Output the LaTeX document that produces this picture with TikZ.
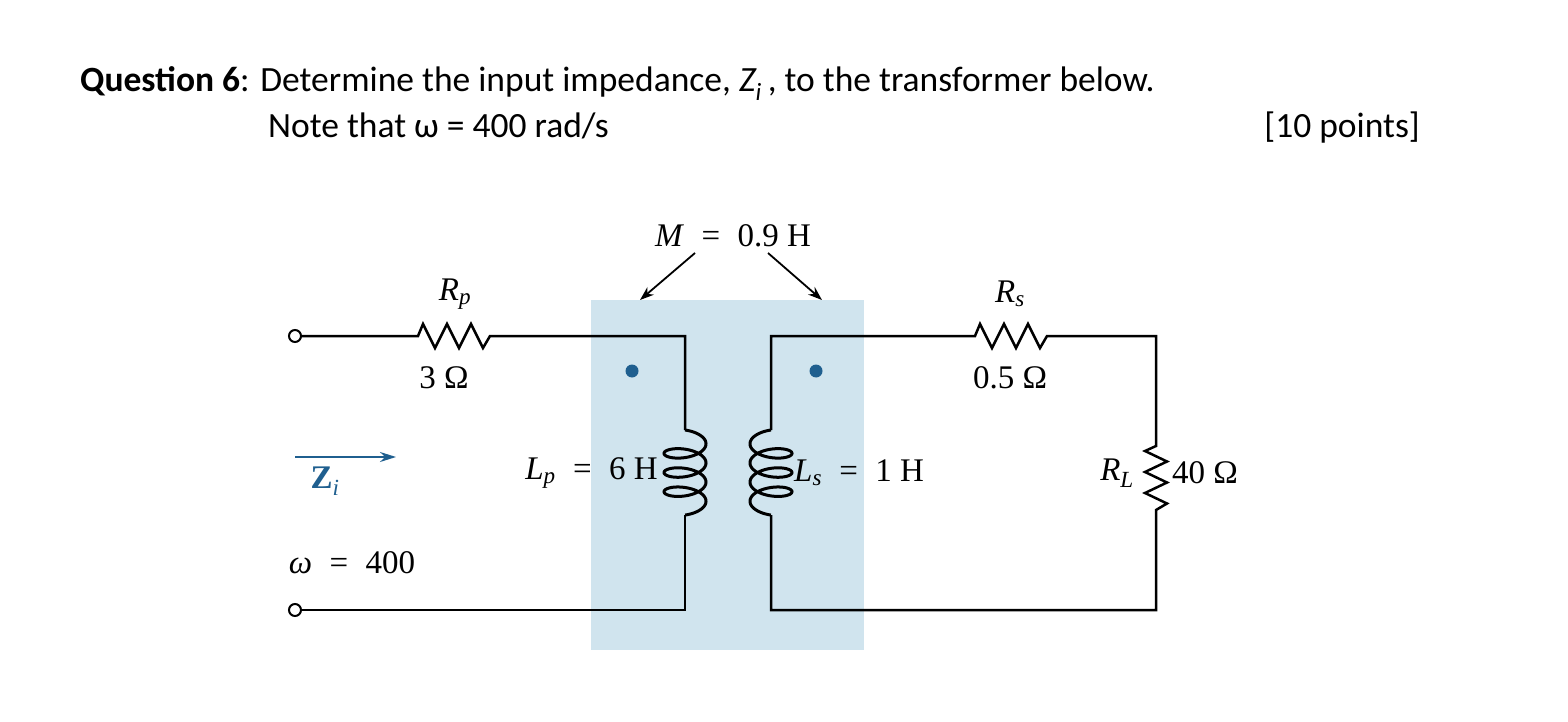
\documentclass[tikz,border=0pt]{standalone}
\usepackage{fontspec}
\setmainfont{Liberation Serif}
\newfontfamily\titlefont{Carlito}
\usetikzlibrary{arrows.meta}
\definecolor{boxblue}{RGB}{208,228,238}
\definecolor{dotblue}{RGB}{31,95,143}
\begin{document}
\begin{tikzpicture}[x=1pt,y=-1pt,
  wire/.style={line width=2.5pt,line join=miter},
  lab/.style={font=\fontsize{33}{33}\selectfont,inner sep=0pt},
  ttl/.style={font=\titlefont\fontsize{35.5}{35.5}\selectfont,inner sep=0pt,anchor=base west},
  term/.style={circle,draw,line width=2pt,fill=white,minimum size=12pt,inner sep=0pt}]
\useasboundingbox (0,0) rectangle (1568,722);
\fill[white] (0,0) rectangle (1568,722);
% title
\node[ttl] (t1) at (80,92) {\textbf{Question 6}: Determine the input impedance, \textit{Z\textsubscript{i}}\,, to the transformer below.};
\node[ttl] (t2) at (268,138) {Note that ω = 400 rad/s};
\node[ttl,anchor=base east] (t3) at (1420,138) {[10 points]};
% core box
\fill[boxblue] (591,300) rectangle (864,650);
% coordinates
\coordinate (a1) at (295,336); \coordinate (a2) at (295,610);
\coordinate (rp1) at (418,336); \coordinate (rp2) at (490,336);
\coordinate (p1) at (685,336); \coordinate (p2) at (685,430);
\coordinate (p3) at (685,515); \coordinate (p4) at (685,610);
\coordinate (s1) at (771,336); \coordinate (s2) at (771,430);
\coordinate (s3) at (771,515); \coordinate (s4) at (771,610);
\coordinate (rs1) at (975,336); \coordinate (rs2) at (1047,336);
\coordinate (c1) at (1156,336); \coordinate (c2) at (1156,446);
\coordinate (c3) at (1156,510); \coordinate (c4) at (1156,610);
\draw[wire] (a1) -- (rp1) -- ++(5,-12) -- ++(12,24) -- ++(12,-24) -- ++(12,24) -- ++(12,-24) -- ++(12,24) -- (rp2) -- (p1) -- (p2);
\draw[wire] (p3) -- (p4) -- (a2);
\draw[wire] (s2) -- (s1) -- (rs1) -- ++(5,-12) -- ++(12,24) -- ++(12,-24) -- ++(12,24) -- ++(12,-24) -- ++(12,24) -- (rs2) -- (c1) -- (c2)
  -- ++(-11,5) -- ++(22,10.5) -- ++(-22,10.5) -- ++(22,10.5) -- ++(-22,10.5) -- ++(22,10.5) -- (c3) -- (c4) -- (s4) -- (s3);
% coils
\draw[line width=3pt,domain=0:21.99,samples=300,smooth,variable=\t]
  plot ({685+21*sin(\t r)},{430+3.05*\t+9*(1-cos(\t r))});
\draw[line width=3pt,domain=0:21.99,samples=300,smooth,variable=\t]
  plot ({771-21*sin(\t r)},{430+3.05*\t+9*(1-cos(\t r))});
\node[term] (ta) at (a1) {};
\node[term] (tb) at (a2) {};
% dots
\fill[dotblue] (632,371) circle (6.5pt);
\fill[dotblue] (816,371) circle (6.5pt);
% labels
\node[lab] (m) at (733,236) {\textit{M}\; = \;0.9 H};
\coordinate (m1) at (695,253); \coordinate (m2) at (640,300);
\coordinate (m3) at (768,253); \coordinate (m4) at (822,300);
\draw[line width=1.8pt,-{Stealth[length=14pt,width=10pt]}] (m1) -- (m2);
\draw[line width=1.8pt,-{Stealth[length=14pt,width=10pt]}] (m3) -- (m4);
\node[lab] (rpl) at (455,294) {\textit{R}\textsubscript{\textit{p}}};
\node[lab] (rpv) at (444,378) {3 Ω};
\node[lab] (rsl) at (1010,294) {\textit{R}\textsubscript{\textit{s}}};
\node[lab] (rsv) at (1010,378) {0.5 Ω};
\node[lab,anchor=east] (lp) at (658,473) {\textit{L}\textsubscript{\textit{p}} \;= \;6 H};
\node[lab,anchor=west] (ls) at (794,473) {\textit{L}\textsubscript{\textit{s}} \;= \;1 H};
\node[lab,anchor=east] (rl) at (1134,473) {\textit{R}\textsubscript{\textit{L}}};
\node[lab,anchor=west] (rlv) at (1172,473) {40 Ω};
\node[lab] (w) at (352,563) {\textit{ω} \;= \;400};
\coordinate (z1) at (295,457); \coordinate (z2) at (396,457);
\draw[dotblue,line width=2pt,-{Stealth[length=16pt,width=10pt]}] (z1) -- (z2);
\node[lab,text=dotblue] (zi) at (325,481) {\textbf{Z}\textsubscript{\textit{i}}};
\end{tikzpicture}
\end{document}
